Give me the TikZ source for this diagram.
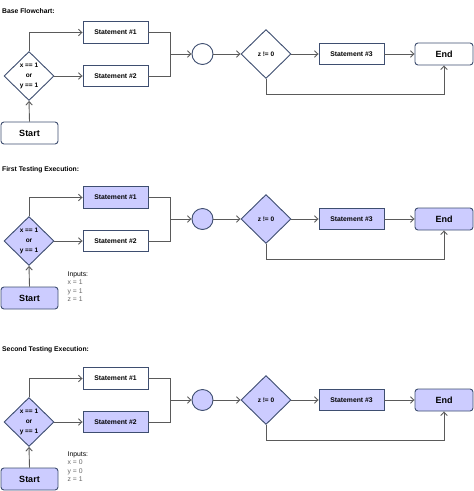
\documentclass[tikz,border=0pt]{standalone}
\usepackage{fontspec}
\setmainfont{Liberation Sans}
\usetikzlibrary{shapes.geometric,arrows.meta}
\definecolor{hl}{HTML}{CCCCFF}
\definecolor{bx}{HTML}{3E4E70}
\definecolor{lnc}{HTML}{5A5A5A}
\definecolor{gtx}{HTML}{666666}
\tikzset{
  base/.style={draw=bx,line width=0.9pt,fill=white,inner sep=0pt,text=black},
  rbox/.style={base,rectangle,minimum width=65pt,minimum height=21.5pt,font=\bfseries\fontsize{6.8}{8}\selectfont},
  term/.style={base,rectangle,rounded corners=3pt,minimum width=57pt,minimum height=22pt,font=\bfseries\fontsize{9}{10}\selectfont},
  dia/.style={base,diamond,minimum width=50pt,minimum height=49pt,align=center,font=\bfseries\fontsize{6.5}{10}\selectfont},
  circ/.style={base,circle,minimum size=21pt},
  lit/.style={fill=hl},
  ln/.style={draw=lnc,line width=0.9pt},
  arr/.style={ln,-{Straight Barb[length=3.5pt,width=6.5pt]}},
  ttl/.style={anchor=west,inner sep=0pt,font=\bfseries\fontsize{6.8}{8}\selectfont},
  inp/.style={anchor=north west,inner sep=0pt,align=left,font=\fontsize{6.8}{8.5}\selectfont},
  fD1/.style={},fS1/.style={},fS2/.style={},fC/.style={},fD2/.style={},fS3/.style={},fE/.style={},fSt/.style={}
}
\newcommand\flowchart[1]{%
  \node[dia,fD1] (#1d1) at (29,76) {x == 1\\or\\y == 1};
  \node[rbox,fS1] (#1s1) at (115.5,32.5) {Statement \#1};
  \node[rbox,fS2] (#1s2) at (115.5,76) {Statement \#2};
  \node[term,fSt] (#1st) at (29.5,133) {Start};
  \coordinate (#1j) at (170,54);
  \node[circ,fC] (#1c) at (202.5,54) {};
  \node[dia,fD2] (#1d2) at (266,54) {z != 0};
  \node[rbox,fS3] (#1s3) at (351.5,54) {Statement \#3};
  \node[term,fE,minimum width=58pt] (#1e) at (444,54) {End};
  \coordinate (#1b) at (266,94);
  \draw[arr] (#1st.north) -- (#1d1.south);
  \draw[arr] (#1d1.north) |- (#1s1.west);
  \draw[arr] (#1d1.east) -- (#1s2.west);
  \draw[ln] (#1s1.east) -| (#1j);
  \draw[ln] (#1s2.east) -| (#1j);
  \draw[arr] (#1j) -- (#1c.west);
  \draw[arr] (#1c.east) -- (#1d2.west);
  \draw[arr] (#1d2.east) -- (#1s3.west);
  \draw[arr] (#1s3.east) -- (#1e.west);
  \draw[arr] (#1d2.south) -- (#1b) -| (#1e.south);
}
\begin{document}
\begin{tikzpicture}[x=1pt,y=-1pt]
\useasboundingbox (0,0) rectangle (474,491);
\node[ttl] (t1) at (2,11) {Base Flowchart:};
\node[ttl] (t2) at (2,169.5) {First Testing Execution:};
\node[ttl] (t3) at (2,350) {Second Testing Execution:};
\begin{scope}
  \flowchart{a}
\end{scope}
\begin{scope}[shift={(0,165)},fD1/.style={lit},fS1/.style={lit},fC/.style={lit},fD2/.style={lit},fS3/.style={lit},fE/.style={lit},fSt/.style={lit}]
  \flowchart{b}
  \node[inp] (bi) at (67.5,106.5) {Inputs:\\\textcolor{gtx}{x = 1}\\\textcolor{gtx}{y = 1}\\\textcolor{gtx}{z = 1}};
\end{scope}
\begin{scope}[shift={(0,346)},fD1/.style={lit},fS2/.style={lit},fC/.style={lit},fD2/.style={lit},fS3/.style={lit},fE/.style={lit},fSt/.style={lit}]
  \flowchart{c}
  \node[inp] (ci) at (67.5,105.5) {Inputs:\\\textcolor{gtx}{x = 0}\\\textcolor{gtx}{y = 0}\\\textcolor{gtx}{z = 1}};
\end{scope}
\end{tikzpicture}
\end{document}
